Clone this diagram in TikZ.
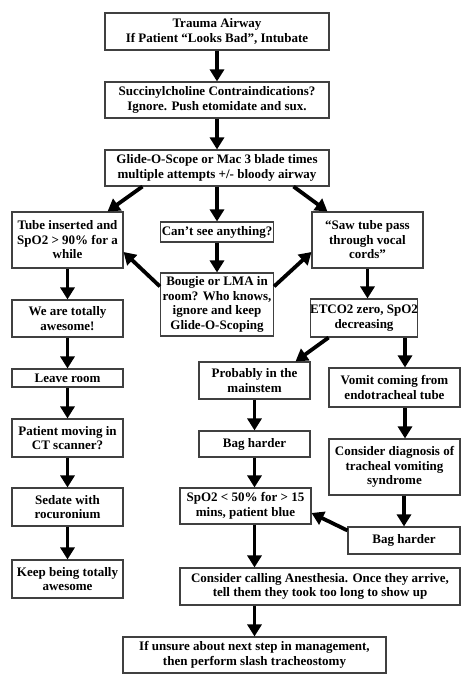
\documentclass[tikz,border=0pt]{standalone}
\usepackage{fontspec}
\setmainfont{Liberation Serif}
\usetikzlibrary{arrows.meta}
\begin{document}
\begin{tikzpicture}[x=1pt,y=-1pt,
  box/.style={draw=black!75, line width=1.1pt, align=center, inner sep=0pt,
    font=\fontsize{13}{14.5}\selectfont\bfseries},
  arr/.style={line width=3.8pt, -{Triangle[width=14pt,length=12pt]}}]
\useasboundingbox (0,0) rectangle (474,687);
% nodes: centers and sizes from reference pixels
\node[box, minimum width=224pt, minimum height=37pt] (n1) at (217,31.5) {Trauma Airway\\If Patient “Looks Bad”, Intubate};
\node[box, minimum width=224pt, minimum height=36pt] (n2) at (217,100) {Succinylcholine Contraindications?\\Ignore. Push etomidate and sux.};
\node[box, minimum width=224pt, minimum height=36pt] (n3) at (217,168) {Glide-O-Scope or Mac 3 blade times\\multiple attempts +/- bloody airway};
\node[box, minimum width=111pt, minimum height=56pt] (tube) at (67.5,240) {Tube inserted and\\SpO2 > 90\% for a\\while};
\node[box, minimum width=113pt, minimum height=20pt] (cant) at (217,232) {Can’t see anything?};
\node[box, minimum width=111pt, minimum height=56pt] (saw) at (367.5,240) {“Saw tube pass\\through vocal\\cords”};
\node[box, minimum width=113pt, minimum height=63pt] (boug) at (217,304.5) {Bougie or LMA in\\room? Who knows,\\ignore and keep\\Glide-O-Scoping};
\node[box, minimum width=111pt, minimum height=37pt] (awe) at (67.5,318.5) {We are totally\\awesome!};
\node[box, minimum width=111pt, minimum height=18pt] (leave) at (67.5,378) {Leave room};
\node[box, minimum width=111pt, minimum height=38pt] (ct) at (67.5,438) {Patient moving in\\CT scanner?};
\node[box, minimum width=111pt, minimum height=38pt] (sed) at (67.5,507) {Sedate with\\rocuronium};
\node[box, minimum width=111pt, minimum height=38pt] (keep) at (67.5,579) {Keep being totally\\awesome};
\node[box, minimum width=106pt, minimum height=38pt] (etco) at (364,318) {ETCO2 zero, SpO2\\decreasing};
\node[box, minimum width=111pt, minimum height=37pt] (prob) at (254.5,380.5) {Probably in the\\mainstem};
\node[box, minimum width=131pt, minimum height=39pt] (vom) at (394.5,387.5) {Vomit coming from\\endotracheal tube};
\node[box, minimum width=111pt, minimum height=26pt] (bagm) at (254.5,444) {Bag harder};
\node[box, minimum width=131pt, minimum height=56pt] (diag) at (394.5,467) {Consider diagnosis of\\tracheal vomiting\\syndrome};
\node[box, minimum width=131pt, minimum height=36pt] (spo) at (245.5,506) {SpO2 < 50\% for > 15\\mins, patient blue};
\node[box, minimum width=112pt, minimum height=27pt] (bagr) at (404,540.5) {Bag harder};
\node[box, minimum width=280pt, minimum height=37pt] (call) at (320,586.5) {Consider calling Anesthesia. Once they arrive,\\tell them they took too long to show up};
\node[box, minimum width=263pt, minimum height=36pt] (fin) at (254.5,655) {If unsure about next step in management,\\then perform slash tracheostomy};
% connectors
\draw[arr] (n1) -- (n2);
\draw[arr] (n2) -- (n3);
\draw[arr] ([xshift=38pt]n3.south west) -- ([xshift=-16pt]tube.north east);
\draw[arr] (n3.south) -- (cant.north);
\draw[arr] ([xshift=-36pt]n3.south east) -- ([xshift=16pt]saw.north west);
\draw[arr] (cant) -- (boug);
\draw[arr] ([yshift=-14pt]boug.north west) -- ([yshift=-12pt]tube.east);
\draw[arr] ([yshift=-14pt]boug.north east) -- ([yshift=-12pt]saw.west);
\draw[arr] (tube) -- (awe);
\draw[arr] (awe) -- (leave);
\draw[arr] (leave) -- (ct);
\draw[arr] (ct) -- (sed);
\draw[arr] (sed) -- (keep);
\draw[arr] (saw.south) -- (saw.south |- etco.north);
\coordinate (vx) at ([xshift=10.5pt]vom.north);
\draw[arr] (etco.south -| vx) -- (vx);
\draw[arr] ([xshift=19pt]etco.south west) -- ([xshift=-15pt]prob.north east);
\draw[arr] (prob) -- (bagm);
\coordinate (dx) at ([xshift=10.5pt]diag.north);
\draw[arr] (vom.south -| dx) -- (dx);
\draw[arr] (diag.south -| bagr.north) -- (bagr.north);
\draw[arr] ([yshift=-4pt]bagr.north west) -- ([yshift=-7pt]spo.east);
\draw[arr] (bagm.south) -- (bagm.south |- spo.north);
\draw[arr] (bagm.south |- spo.south) -- (bagm.south |- call.north);
\draw[arr] (bagm.south |- call.south) -- (fin.north);
\end{tikzpicture}
\end{document}
